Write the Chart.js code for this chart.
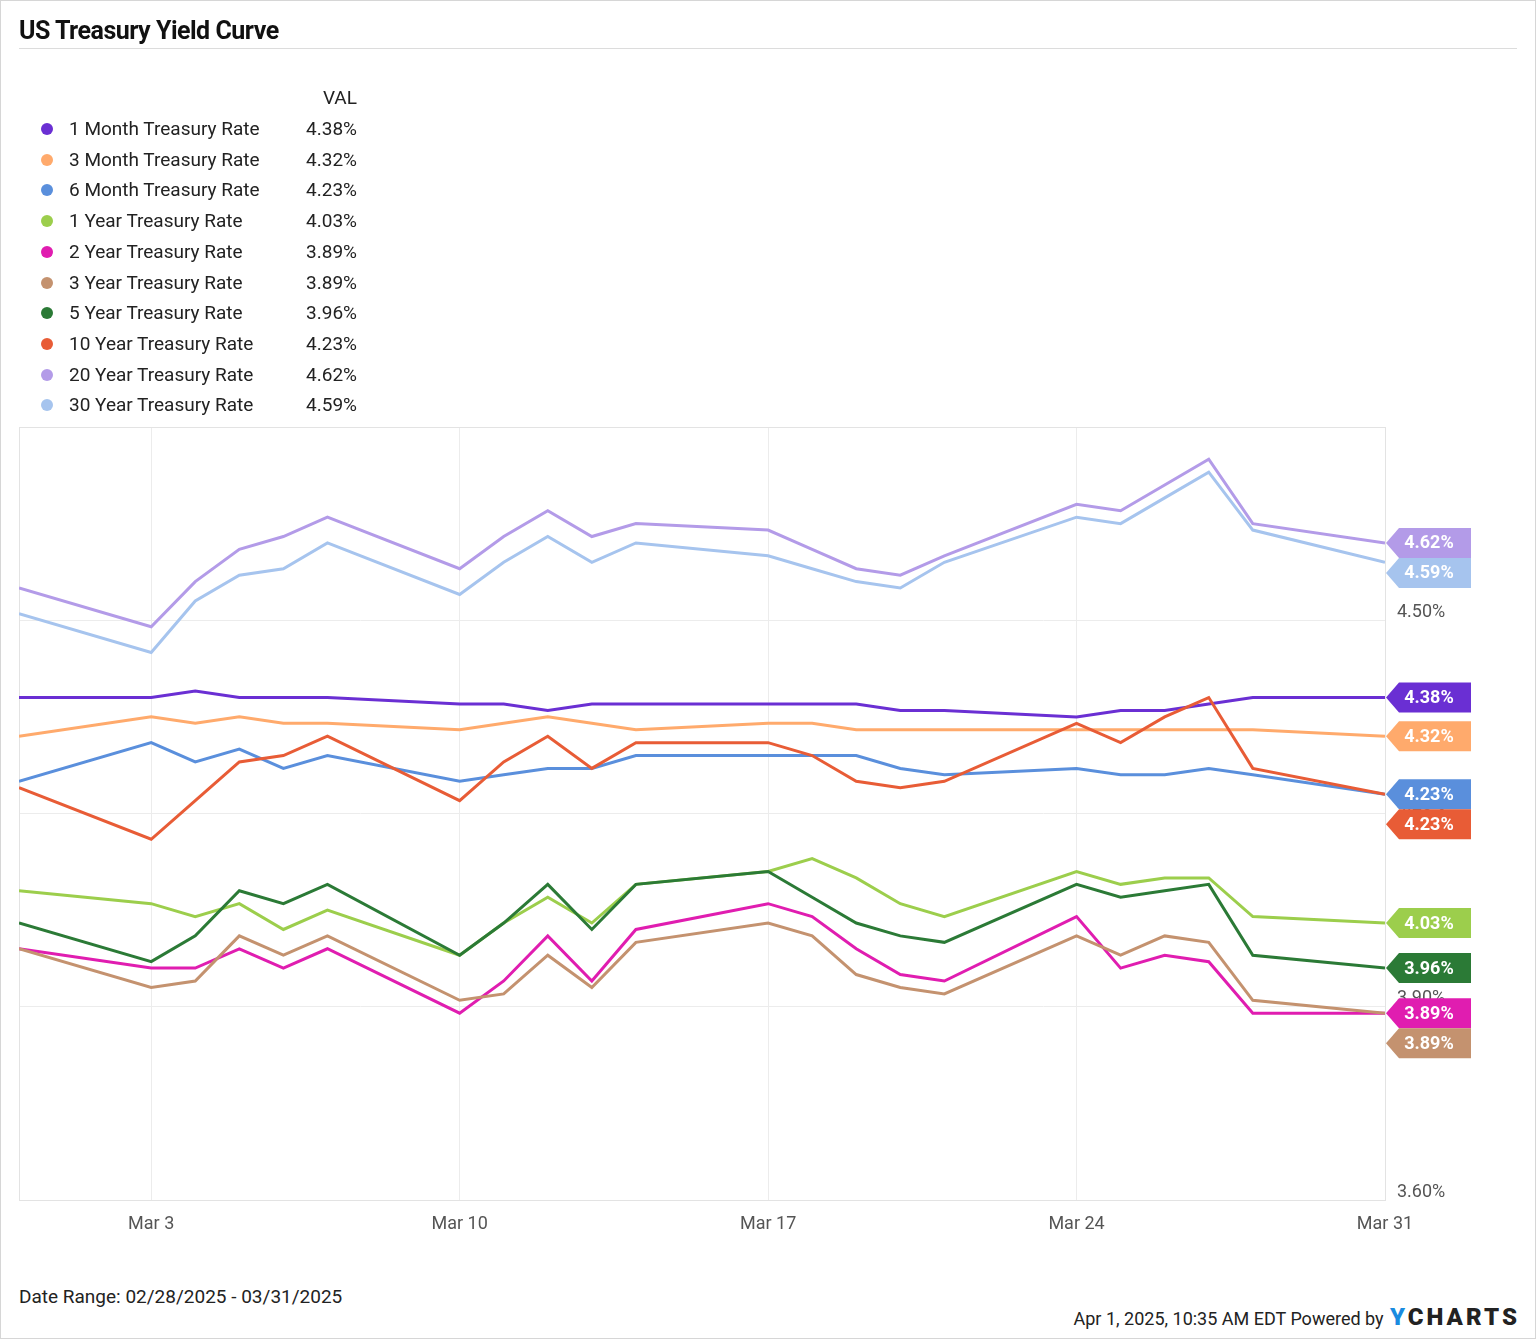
<!DOCTYPE html>
<html lang="en">
<head>
<meta charset="UTF-8">
<title>US Treasury Yield Curve</title>
<script src="https://cdn.jsdelivr.net/npm/chart.js"></script>
<style>
    body { margin: 0; background: #fff; font-family: Roboto, Arial, sans-serif; }
    .page { position: relative; width: 1536px; height: 1339px; overflow: hidden; }
    .frame { position: absolute; left: 0; top: 0; width: 1534px; height: 1337px; border: 1px solid #d6d6d6; pointer-events: none; }
    .chart-box { position: absolute; left: 0; top: 0; width: 1536px; height: 1250px; }
    h1 { position: absolute; left: 19px; top: 16px; margin: 0; font-size: 25px; font-weight: 700; color: #111; letter-spacing: -0.5px; }
    .rule { position: absolute; left: 19px; top: 48px; width: 1498px; border-top: 1px solid #dcdcdc; }
    .legend { position: absolute; left: 0; top: 0; font-size: 19px; color: #222; }
    .legend .head { position: absolute; left: 257px; width: 100px; top: 86px; text-align: right; }
    .legend .row { position: absolute; left: 0; height: 30px; width: 360px; }
    .legend .dot { position: absolute; left: 41px; top: 9px; width: 12px; height: 12px; border-radius: 50%; }
    .legend .name { position: absolute; left: 69px; top: 3px; white-space: nowrap; }
    .legend .val { position: absolute; left: 257px; width: 100px; top: 3px; text-align: right; }
    .footer-left { position: absolute; left: 19px; top: 1285px; font-size: 19px; color: #222; }
    .footer-right { position: absolute; right: 16px; top: 1303px; font-size: 18px; color: #222; white-space: nowrap; }
    .footer-right .logo { font-weight: 900; font-size: 24px; letter-spacing: 3px; color: #222; margin-left: 2px; }
    .footer-right .logo b { color: #1a8be0; }
</style>
</head>
<body>
<div class="page">
    <div class="chart-box"><canvas id="yieldChart"></canvas></div>
    <h1>US Treasury Yield Curve</h1>
    <div class="rule"></div>
    <div class="legend" id="legend"><div class="head">VAL</div></div>
    <div class="footer-left">Date Range: 02/28/2025 - 03/31/2025</div>
    <div class="footer-right">Apr 1, 2025, 10:35 AM EDT Powered by <span class="logo"><b>Y</b>CHARTS</span></div>
    <div class="frame"></div>
</div>

<script>
    // trading days, as day offsets from Feb 28
    const dates = ['Feb 28','Mar 3','Mar 4','Mar 5','Mar 6','Mar 7','Mar 10','Mar 11','Mar 12','Mar 13','Mar 14',
                   'Mar 17','Mar 18','Mar 19','Mar 20','Mar 21','Mar 24','Mar 25','Mar 26','Mar 27','Mar 28','Mar 31'];
    const dayNum = [0,3,4,5,6,7,10,11,12,13,14,17,18,19,20,21,24,25,26,27,28,31];

    const xTickDays = [3,10,17,24,31];
    const xTickLabels = ['Mar 3','Mar 10','Mar 17','Mar 24','Mar 31'];
    const yTicks = [3.6,3.9,4.2,4.5,4.8];

    const seriesNames = ['1 Month Treasury Rate','3 Month Treasury Rate','6 Month Treasury Rate','1 Year Treasury Rate',
                         '2 Year Treasury Rate','3 Year Treasury Rate','5 Year Treasury Rate','10 Year Treasury Rate',
                         '20 Year Treasury Rate','30 Year Treasury Rate'];
    const seriesColors = ['#6a2fd3','#ffaa6c','#5a8fdc','#9cce4c','#e01db0','#c4926f','#2b7a36','#e85c36','#b39be8','#a6c4ee'];

    const m1  = [4.38,4.38,4.39,4.38,4.38,4.38,4.37,4.37,4.36,4.37,4.37,4.37,4.37,4.37,4.36,4.36,4.35,4.36,4.36,4.37,4.38,4.38];
    const m3  = [4.32,4.35,4.34,4.35,4.34,4.34,4.33,4.34,4.35,4.34,4.33,4.34,4.34,4.33,4.33,4.33,4.33,4.33,4.33,4.33,4.33,4.32];
    const m6  = [4.25,4.31,4.28,4.30,4.27,4.29,4.25,4.26,4.27,4.27,4.29,4.29,4.29,4.29,4.27,4.26,4.27,4.26,4.26,4.27,4.26,4.23];
    const y1  = [4.08,4.06,4.04,4.06,4.02,4.05,3.98,4.03,4.07,4.03,4.09,4.11,4.13,4.10,4.06,4.04,4.11,4.09,4.10,4.10,4.04,4.03];
    const y2  = [3.99,3.96,3.96,3.99,3.96,3.99,3.89,3.94,4.01,3.94,4.02,4.06,4.04,3.99,3.95,3.94,4.04,3.96,3.98,3.97,3.89,3.89];
    const y3  = [3.99,3.93,3.94,4.01,3.98,4.01,3.91,3.92,3.98,3.93,4.00,4.03,4.01,3.95,3.93,3.92,4.01,3.98,4.01,4.00,3.91,3.89];
    const y5  = [4.03,3.97,4.01,4.08,4.06,4.09,3.98,4.03,4.09,4.02,4.09,4.11,4.07,4.03,4.01,4.00,4.09,4.07,4.08,4.09,3.98,3.96];
    const y10 = [4.24,4.16,4.22,4.28,4.29,4.32,4.22,4.28,4.32,4.27,4.31,4.31,4.29,4.25,4.24,4.25,4.34,4.31,4.35,4.38,4.27,4.23];
    const y20 = [4.55,4.49,4.56,4.61,4.63,4.66,4.58,4.63,4.67,4.63,4.65,4.64,4.61,4.58,4.57,4.60,4.68,4.67,4.71,4.75,4.65,4.62];
    const y30 = [4.51,4.45,4.53,4.57,4.58,4.62,4.54,4.59,4.63,4.59,4.62,4.60,4.58,4.56,4.55,4.59,4.66,4.65,4.69,4.73,4.64,4.59];

    const seriesValues = [m1, m3, m6, y1, y2, y3, y5, y10, y20, y30];

    // legend on the top left
    const legend = document.getElementById('legend');
    seriesNames.forEach((name, i) => {
        const vals = seriesValues[i];
        const row = document.createElement('div');
        row.className = 'row';
        row.style.top = (114 + i * 30.7) + 'px';
        row.innerHTML = `<span class="dot" style="background:${seriesColors[i]}"></span>` +
                        `<span class="name">${name}</span>` +
                        `<span class="val">${vals[vals.length - 1].toFixed(2)}%</span>`;
        legend.appendChild(row);
    });

    // plot frame
    const framePlugin = {
        id: 'frame',
        beforeDatasetsDraw(chart) {
            const { ctx, chartArea: a } = chart;
            ctx.save();
            ctx.strokeStyle = '#e3e3e3';
            ctx.lineWidth = 1;
            ctx.strokeRect(a.left + 0.5, a.top + 0.5, a.right - a.left, a.bottom - a.top);
            ctx.restore();
        }
    };

    // coloured value tags at the right end of each line
    const tagPlugin = {
        id: 'endTags',
        afterDraw(chart) {
            const { ctx, chartArea, scales: { y } } = chart;
            const items = chart.data.datasets.map((ds, i) => {
                const v = ds.data[ds.data.length - 1].y;
                return { i, v, py: y.getPixelForValue(v), color: ds.borderColor };
            });
            items.sort((a, b) => (a.py - b.py) || (a.i - b.i));
            for (let k = 1; k < items.length; k++) {
                if (items[k].py < items[k - 1].py + 30) items[k].py = items[k - 1].py + 30;
            }
            const x0 = chartArea.right + 1, h = 30, w = 85, tip = 13;
            ctx.save();
            items.forEach(it => {
                ctx.beginPath();
                ctx.moveTo(x0, it.py);
                ctx.lineTo(x0 + tip, it.py - h / 2);
                ctx.lineTo(x0 + w, it.py - h / 2);
                ctx.lineTo(x0 + w, it.py + h / 2);
                ctx.lineTo(x0 + tip, it.py + h / 2);
                ctx.closePath();
                ctx.fillStyle = it.color;
                ctx.fill();
                ctx.fillStyle = '#fff';
                ctx.font = 'bold 18px Roboto';
                ctx.textAlign = 'center';
                ctx.textBaseline = 'middle';
                ctx.fillText(it.v.toFixed(2) + '%', x0 + 43, it.py + 1);
            });
            ctx.restore();
        }
    };

    const datasets = seriesNames.map((name, i) => ({
        label: name,
        data: seriesValues[i].map((v, k) => ({ x: dayNum[k], y: v })),
        borderColor: seriesColors[i],
        backgroundColor: seriesColors[i],
        borderWidth: 3,
        pointRadius: 0,
        tension: 0,
        order: seriesNames.length - i
    }));

    const ctx = document.getElementById('yieldChart').getContext('2d');
    new Chart(ctx, {
        type: 'line',
        data: { datasets },
        options: {
            responsive: true,
            maintainAspectRatio: false,
            animation: false,
            layout: { padding: { left: 19, top: 427, right: 0, bottom: 0 } },
            scales: {
                x: {
                    type: 'linear',
                    min: 0,
                    max: 31,
                    afterBuildTicks: axis => { axis.ticks = xTickDays.map(v => ({ value: v })); },
                    afterFit: axis => { axis.height = 50; },
                    grid: { color: '#ececec', drawTicks: false },
                    border: { display: false },
                    ticks: {
                        padding: 14,
                        color: '#555',
                        font: { family: 'Roboto', size: 18 },
                        maxRotation: 0,
                        autoSkip: false,
                        callback: v => xTickLabels[xTickDays.indexOf(v)]
                    }
                },
                y: {
                    position: 'right',
                    min: 3.6,
                    max: 4.8,
                    afterBuildTicks: axis => { axis.ticks = yTicks.map(v => ({ value: v })); },
                    afterFit: axis => { axis.width = 151; },
                    grid: { color: '#ececec', drawTicks: false },
                    border: { display: false },
                    ticks: {
                        padding: 12,
                        crossAlign: 'near',
                        labelOffset: -8,
                        color: '#555',
                        font: { family: 'Roboto', size: 18 },
                        callback: v => v >= 4.8 ? '' : v.toFixed(2) + '%'
                    }
                }
            },
            plugins: {
                legend: { display: false },
                tooltip: { enabled: false }
            }
        },
        plugins: [framePlugin, tagPlugin]
    });
</script>
</body>
</html>
